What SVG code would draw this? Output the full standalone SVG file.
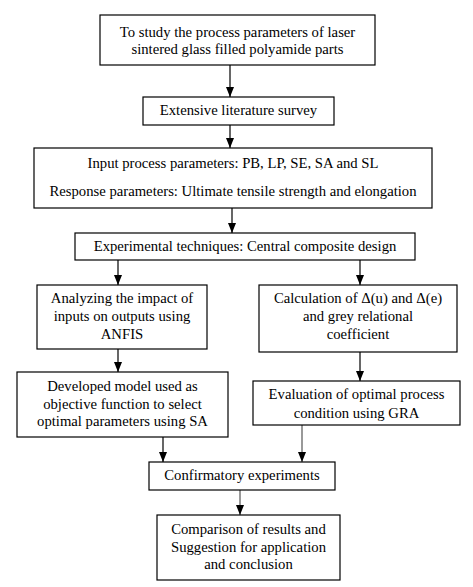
<svg xmlns="http://www.w3.org/2000/svg" width="473" height="587" viewBox="0 0 473 587">
<style>
.box{fill:#fff;stroke:#000;stroke-width:1.2}
.t{font-family:'Liberation Serif','DejaVu Serif',serif;font-size:14.7px;fill:#000;text-anchor:middle}
.c{stroke:#000;stroke-width:1.2;fill:none}
.g{stroke:#555;stroke-width:1.2;fill:none}
</style>
<defs>
<marker id="ah" viewBox="0 0 10 8" markerUnits="userSpaceOnUse" markerWidth="10" markerHeight="8" refX="10" refY="4" orient="auto">
<path d="M0,0 L10,4 L0,8 Z" fill="#000"/>
</marker>
</defs>
<rect width="473" height="587" fill="#fff"/>
<g id="connectors">
<line class="c" x1="230" y1="65" x2="230" y2="97" marker-end="url(#ah)"/>
<line class="c" x1="230" y1="125" x2="230" y2="148" marker-end="url(#ah)"/>
<line class="c" x1="232" y1="208" x2="232" y2="233" marker-end="url(#ah)"/>
<line class="c" x1="118" y1="260" x2="118" y2="285" marker-end="url(#ah)"/>
<line class="c" x1="360" y1="260" x2="360" y2="285" marker-end="url(#ah)"/>
<line class="c" x1="118" y1="349" x2="118" y2="372" marker-end="url(#ah)"/>
<line class="c" x1="360" y1="352" x2="360" y2="381" marker-end="url(#ah)"/>
<line class="c" x1="163" y1="437" x2="163" y2="462" marker-end="url(#ah)"/>
<line class="g" x1="302" y1="425" x2="302" y2="462" marker-end="url(#ah)"/>
<line class="g" x1="240" y1="490" x2="240" y2="515" marker-end="url(#ah)"/>
</g>
<g font-family="Liberation Serif, serif">
<g id="n1"><rect class="box" x="100" y="15" width="275" height="50"/>
<text class="t" x="237.5" y="37">To study the process parameters of laser</text>
<text class="t" x="237.5" y="54">sintered glass filled polyamide parts</text></g>
<g id="n2"><rect class="box" x="143" y="97" width="191" height="28"/>
<text class="t" x="238.5" y="115">Extensive literature survey</text></g>
<g id="n3"><rect class="box" x="34" y="148" width="398" height="60"/>
<text class="t" x="233" y="168">Input process parameters: PB, LP, SE, SA and SL</text>
<text class="t" x="233" y="196">Response parameters: Ultimate tensile strength and elongation</text></g>
<g id="n4"><rect class="box" x="75" y="233" width="340" height="27"/>
<text class="t" x="245" y="251">Experimental techniques: Central composite design</text></g>
<g id="n5"><rect class="box" x="37" y="285" width="170" height="64"/>
<text class="t" x="122" y="303">Analyzing the impact of</text>
<text class="t" x="122" y="321">inputs on outputs using</text>
<text class="t" x="122" y="339">ANFIS</text></g>
<g id="n6"><rect class="box" x="259" y="285" width="198" height="67"/>
<text class="t" x="358" y="303">Calculation of Δ(u) and Δ(e)</text>
<text class="t" x="358" y="321">and grey relational</text>
<text class="t" x="358" y="339">coefficient</text></g>
<g id="n7"><rect class="box" x="17" y="372" width="211" height="65"/>
<text class="t" x="122.5" y="391">Developed model used as</text>
<text class="t" x="122.5" y="409">objective function to select</text>
<text class="t" x="122.5" y="426">optimal parameters using SA</text></g>
<g id="n8"><rect class="box" x="253" y="381" width="207" height="44"/>
<text class="t" x="356.5" y="399">Evaluation of optimal process</text>
<text class="t" x="356.5" y="418">condition using GRA</text></g>
<g id="n9"><rect class="box" x="149" y="462" width="186" height="28"/>
<text class="t" x="242" y="480">Confirmatory experiments</text></g>
<g id="n10"><rect class="box" x="157" y="515" width="183" height="65"/>
<text class="t" x="248.5" y="534">Comparison of results and</text>
<text class="t" x="248.5" y="552">Suggestion for application</text>
<text class="t" x="248.5" y="569">and conclusion</text></g>
</g>
</svg>
